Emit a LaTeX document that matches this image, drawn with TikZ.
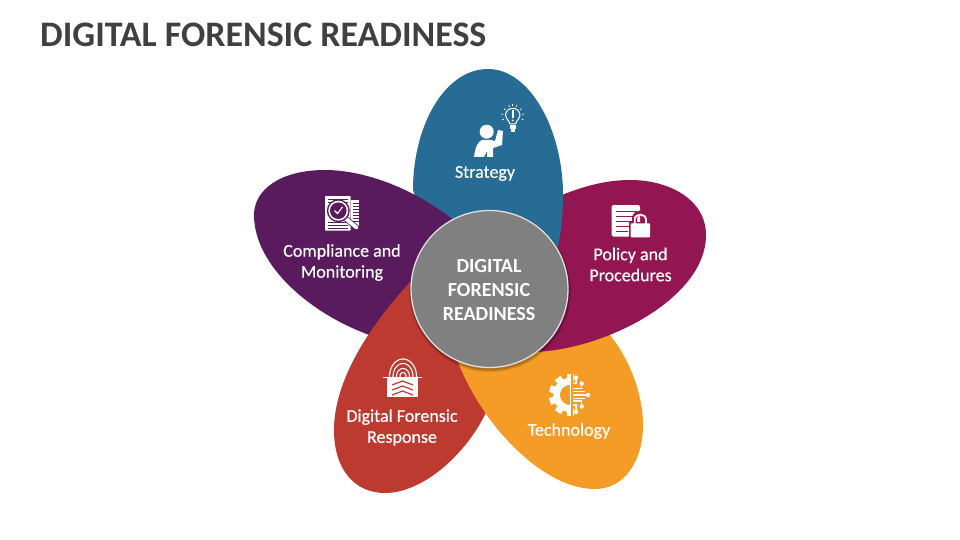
\documentclass[tikz,border=0pt]{standalone}
\usepackage{fontspec}
\setmainfont{Carlito}
\newfontfamily\lblfont[FakeBold=0.45]{Carlito}
\definecolor{cBlue}{HTML}{266C94}
\definecolor{cPurple}{HTML}{5A1A5E}
\definecolor{cMag}{HTML}{931552}
\definecolor{cOrange}{HTML}{F49C26}
\definecolor{cRed}{HTML}{BD3A30}
\definecolor{cGray}{HTML}{808080}
\definecolor{cTitle}{HTML}{404040}
\newcommand{\orangepetal}{(458,362) .. controls (480,420) and (540,489) .. (595,489) .. controls (625,489) and (643,460) .. (643,425) .. controls (643,395) and (630,360) .. (610,335) -- (500,290) -- cycle}
\tikzset{
  lbl/.style={text=white,font=\lblfont\fontsize{18}{21}\selectfont,align=center,inner sep=0pt},
  ctr/.style={text=white,font=\fontsize{20}{24.2}\selectfont\bfseries,align=center,inner sep=0pt},
  ico/.style={fill=white,draw=none},
  iline/.style={draw=white,line width=1pt},
  trace/.style={draw=white,line width=1.2pt},
}
\begin{document}
\begin{tikzpicture}[x=1pt,y=-1pt]
\useasboundingbox[fill=white] (0,0) rectangle (960,540);
\node[anchor=west,inner sep=0pt,text=cTitle,font=\fontsize{35.9}{38}\selectfont\bfseries] (title) at (40,34.5) {DIGITAL FORENSIC READINESS};
% petals
\fill[cOrange] \orangepetal;
\fill[cMag] (530,352) .. controls (600,352) and (706,300) .. (706,235) .. controls (706,200) and (670,180) .. (630,180) .. controls (605,180) and (580,187) .. (555,198) -- (490,290) -- cycle;
\fill[cBlue] (488,69) .. controls (530,69) and (563,130) .. (563,195) .. controls (563,215) and (561,235) .. (556,255) -- (490,295) -- (430,240) -- (413,190) .. controls (413,125) and (445,69) .. (488,69) -- cycle;
\fill[cPurple] (456,222) .. controls (410,185) and (360,170) .. (325,170) .. controls (280,170) and (254,190) .. (254,215) .. controls (254,265) and (310,315) .. (375,337) -- (470,300) -- cycle;
\fill[cRed] (412,280) .. controls (370,325) and (334,380) .. (334,430) .. controls (334,470) and (355,493) .. (385,493) .. controls (425,493) and (470,450) .. (488,408) -- (505,340) -- (470,290) -- cycle;
\begin{scope}
\clip (440,340) rectangle (505,450);
\fill[cOrange] \orangepetal;
\end{scope}
% centre
\fill[black,opacity=.12] (490,291) circle (81pt);
\fill[black,opacity=.18] (490,290.5) circle (80pt);
\node[circle,fill=cGray,draw=white!88!black,line width=1.3pt,minimum size=157pt,inner sep=0pt] (hub) at (489.5,289) {};
\node[ctr] (hubtext) at (489,290) {DIGITAL\\FORENSIC\\READINESS};
% labels
\node[lbl] (strategy) at (485,173.5) {Strategy};
\node[lbl] (compliance) at (342,262.5) {Compliance and\\Monitoring};
\node[lbl] (policy) at (630.5,264.5) {Policy and\\Procedures};
\node[lbl] (response) at (402,427.5) {Digital Forensic\\Response};
\node[lbl] (technology) at (569,431) {Technology};
% icon: person and bulb
\fill[ico] (486.7,131.7) circle (7pt);
\fill[ico] (474,157) .. controls (475,148) and (478,141) .. (482,140) -- (491,140) -- (495,141) -- (498,130) -- (503,131) -- (502,145) -- (493,148) -- (493,157) -- (487,157) -- (487,151) -- (484,157) -- cycle;
\draw[iline] (510,124) .. controls (509,120) and (505.5,119) .. (505.5,115.5) .. controls (505.5,106) and (520,106) .. (520,115.5) .. controls (520,119) and (516.5,120) .. (515.5,124) -- cycle;
\fill[ico] (511.8,110.5) rectangle (513.6,118);
\fill[ico] (512.7,120.3) circle (1pt);
\fill[ico] (509.5,125) rectangle (516,129.5);
\fill[ico] (511,129.5) rectangle (514.5,132.5);
\foreach \a in {-170,-140,-110,-90,-70,-40,-10,20,160} {
  \draw[white,line width=.7pt] ({512.7+9.5*cos(\a)},{116+9.5*sin(\a)}) -- ({512.7+11.5*cos(\a)},{116+11.5*sin(\a)});
}
% icon: documents and magnifier
\fill[ico] (350.7,200) rectangle (359,226.7);
\foreach \y in {203,206,209,212,215,218,221} {\draw[cPurple,line width=.8pt] (353,\y) -- (359,\y);}
\fill[ico,rounded corners=.8pt] (325,196) rectangle (350.7,230.7);
\foreach \y in {199.5,202.5,222,225,228} {\draw[cPurple,line width=.9pt] (328,\y) -- (348,\y);}
\draw[cPurple,line width=5.5pt,line cap=round] (345,218) -- (356.5,227.5);
\draw[white,line width=3.8pt,line cap=round] (345,218) -- (356.5,227.5);
\fill[cPurple] (338.3,210.7) circle (11.5pt);
\fill[white] (338.3,210.7) circle (10pt);
\fill[cPurple] (338.3,210.7) circle (8.3pt);
\draw[white,line width=1.1pt] (334.5,210.5) -- (337.5,213.5) -- (342.5,207);
% icon: policy and lock
\fill[ico,rounded corners=1.5pt] (611.7,205) rectangle (640,236.7);
\foreach \y/\e in {211.7/637,216.7/634,221.7/632,226.7/630,231.7/628} {\draw[cMag,line width=1.2pt] (616,\y) -- (\e,\y);}
\draw[cMag,line width=5pt] (634.5,224) -- (634.5,219) .. controls (634.5,211) and (646,211) .. (646,219) -- (646,224);
\fill[cMag] (628.5,221.5) rectangle (652,240);
\draw[white,line width=1.8pt] (634.7,224) -- (634.7,219.5) .. controls (634.7,213) and (645.9,213) .. (645.9,219.5) -- (645.9,224);
\fill[ico,rounded corners=.8pt] (630.7,223.3) rectangle (650,237.3);
% icon: fingerprint
\fill[ico] (386.7,378.3) rectangle (418.3,397.3);
\draw[white,line width=.8pt] (382.7,377) -- (421.7,377);
\foreach \rx/\ry in {3/4,6.5/8,10/13,13.5/17.5} {
  \draw[white,line width=1.1pt] plot[domain=175:365,samples=24] ({403+\rx*cos(\x)},{376.5+\ry*sin(\x)});
}
\foreach \y in {381,386,391} {
  \draw[cRed,line width=1.2pt] (392,\y+4) -- (402.5,\y) -- (413,\y+4);
}
% icon: gear and circuit
\draw[white,line width=7pt] plot[domain=90:270,samples=30] ({570+13.5*cos(\x)},{395+13.5*sin(\x)});
\foreach \a in {90,126,162,198,234,270} {
  \fill[ico,rotate around={\a:(570,395)}] (583,391.5) rectangle (591,398.5);
}
\fill[ico] (570,374) rectangle (571,416);
\fill[cOrange] (571,372) rectangle (572.5,418);
\draw[trace] (572.5,383.3) -- (576,383.3) -- (576,378);
\draw[trace] (572.5,388.3) -- (581.7,388.3) -- (581.7,384);
\draw[trace] (572.5,391.7) -- (585,391.7);
\draw[trace] (572.5,395) -- (588,395);
\draw[trace] (572.5,398.3) -- (585,398.3);
\draw[trace] (572.5,401) -- (581.7,401) -- (581.7,406);
\draw[trace] (572.5,405) -- (576,405) -- (576,411);
\foreach \p in {(576,377.5),(581.7,383.5),(588,395),(581.7,406.5),(576,412)} {\fill[ico] \p circle (2.2pt);}
\end{tikzpicture}
\end{document}
